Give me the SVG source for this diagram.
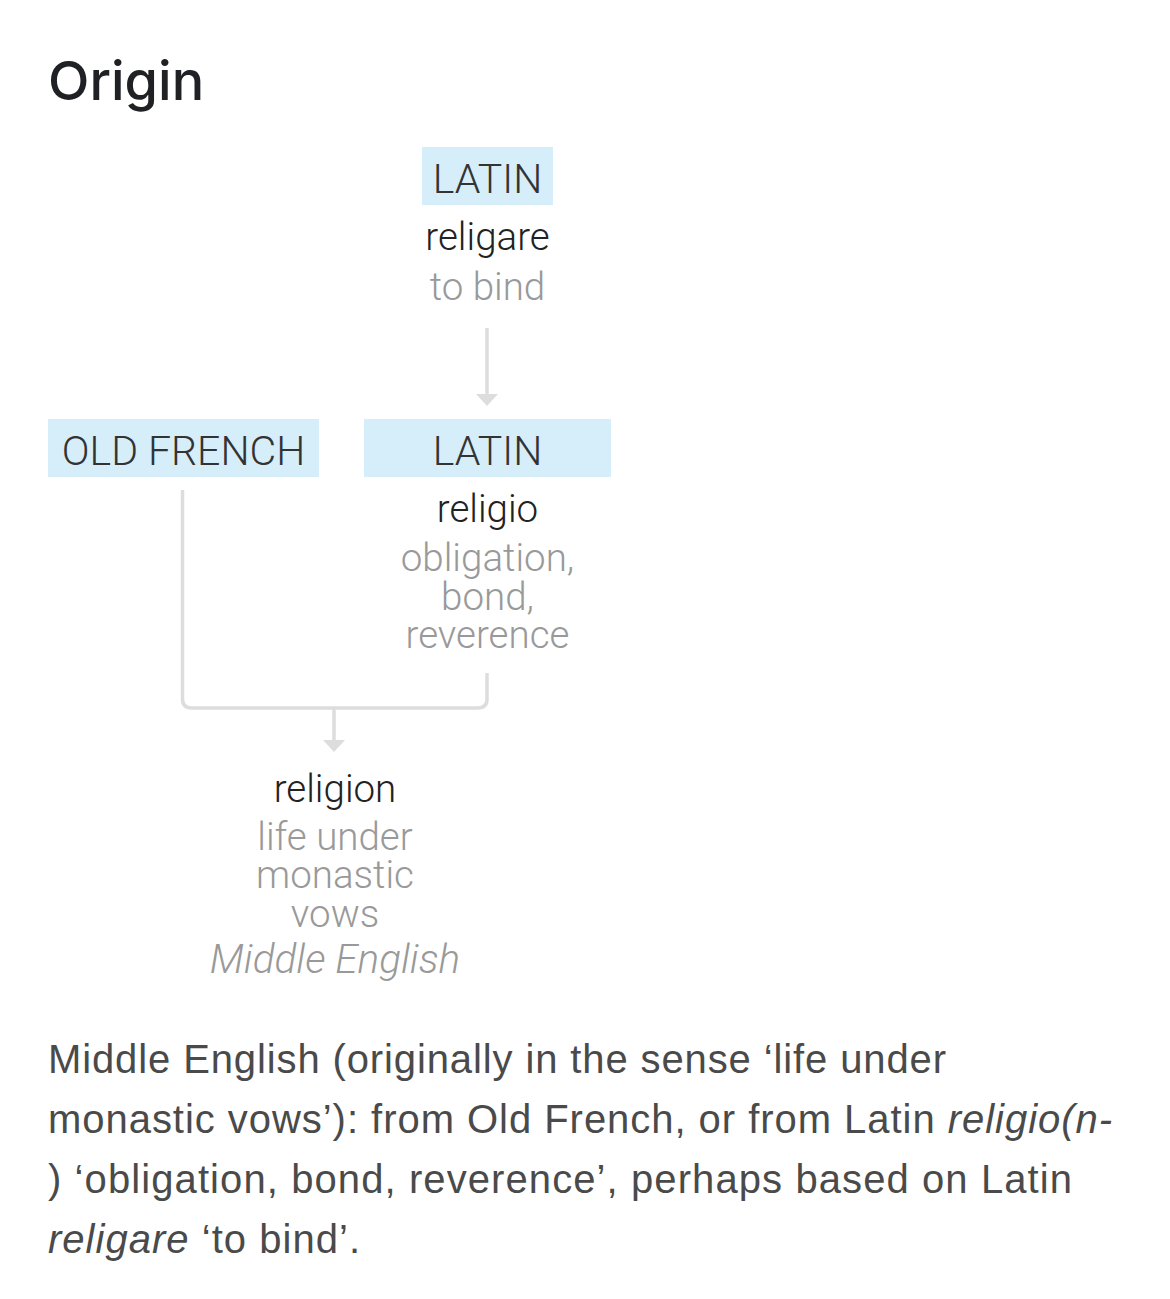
<svg xmlns="http://www.w3.org/2000/svg" width="1170" height="1299" viewBox="0 0 1170 1299">
  <style>
    .bg { fill: #ffffff; }
    .box { fill: #d6eefa; }
    .lang { font-family: Roboto, "Liberation Sans", sans-serif; font-weight: 300; font-size: 41px; fill: #333333; text-anchor: middle; }
    .word { font-family: Roboto, "Liberation Sans", sans-serif; font-weight: 300; font-size: 38.5px; fill: #222222; text-anchor: middle; }
    .gloss { font-family: Roboto, "Liberation Sans", sans-serif; font-weight: 300; font-size: 38.5px; fill: #999999; text-anchor: middle; }
    .era { font-family: Roboto, "Liberation Sans", sans-serif; font-weight: 300; font-style: italic; font-size: 40.5px; fill: #999999; text-anchor: middle; }
    .title { font-family: Inter, "Open Sans", sans-serif; font-weight: 500; font-size: 54px; fill: #202124; }
    .para { font-family: "Liberation Sans", Arial, sans-serif; font-size: 40px; fill: #4a4a4a; }
    .it { font-style: italic; }
    .conn { fill: none; stroke: #dddddd; stroke-width: 3.5; }
  </style>
  <defs>
    <marker id="arrow" viewBox="0 0 12 22" refX="6" refY="11" markerWidth="12" markerHeight="22" markerUnits="userSpaceOnUse" orient="auto">
      <path d="M0,0 L12,11 L0,22 z" fill="#dddddd"/>
    </marker>
  </defs>
  <rect class="bg" x="0" y="0" width="1170" height="1299"/>

  <text class="title" x="48" y="100">Origin</text>

  <g id="connectors">
    <line class="conn" x1="487" y1="328" x2="487" y2="400" marker-end="url(#arrow)"/>
    <path class="conn" d="M182.5,490 V699 Q182.5,708 191.5,708 H478 Q487,708 487,699 V673"/>
    <line class="conn" x1="334" y1="708" x2="334" y2="746" marker-end="url(#arrow)"/>
  </g>

  <g id="latin-religare">
    <rect class="box" x="422" y="147" width="131" height="58"/>
    <text class="lang" x="487.5" y="193">LATIN</text>
    <text class="word" x="487.5" y="250">religare</text>
    <text class="gloss" x="487.5" y="300">to bind</text>
  </g>

  <g id="old-french">
    <rect class="box" x="48" y="419" width="271" height="58"/>
    <text class="lang" x="183.5" y="465">OLD FRENCH</text>
  </g>

  <g id="latin-religio">
    <rect class="box" x="364" y="419" width="247" height="58"/>
    <text class="lang" x="487.5" y="465">LATIN</text>
    <text class="word" x="487.5" y="522">religio</text>
    <text class="gloss" x="487.5" y="571">obligation,</text>
    <text class="gloss" x="487.5" y="610">bond,</text>
    <text class="gloss" x="487.5" y="648">reverence</text>
  </g>

  <g id="religion">
    <text class="word" x="335" y="802">religion</text>
    <text class="gloss" x="335" y="850">life under</text>
    <text class="gloss" x="335" y="888">monastic</text>
    <text class="gloss" x="335" y="927">vows</text>
    <text class="era" x="335" y="973">Middle English</text>
  </g>

  <g id="description">
    <text class="para" x="48" y="1073" textLength="898">Middle English (originally in the sense ‘life under</text>
    <text class="para" x="48" y="1133" textLength="1064">monastic vows’): from Old French, or from Latin <tspan class="it">religio(n-</tspan></text>
    <text class="para" x="48" y="1193" textLength="1024">) ‘obligation, bond, reverence’, perhaps based on Latin</text>
    <text class="para" x="48" y="1253" textLength="312"><tspan class="it">religare</tspan> ‘to bind’.</text>
  </g>
</svg>
